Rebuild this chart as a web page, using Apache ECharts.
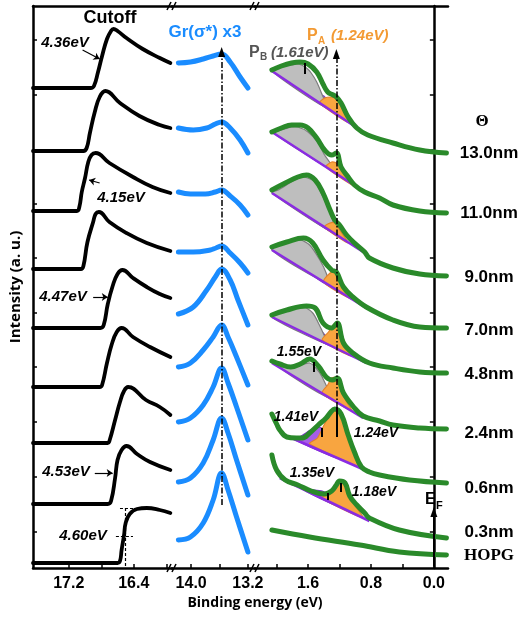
<!DOCTYPE html>
<html>
<head>
<meta charset="utf-8">
<script src="https://cdn.jsdelivr.net/npm/echarts@6/dist/echarts.min.js"></script>
<style>
  html, body { margin: 0; padding: 0; background: #fff; }
  #chart { width: 520px; height: 623px; }
</style>
</head>
<body>
<div id="chart"></div>
<script>
// sample labels, top to bottom
var thickness = ['13.0nm', '11.0nm', '9.0nm', '7.0nm', '4.8nm', '2.4nm', '0.6nm', '0.3nm', 'HOPG'];

// axis ticks (binding energy, eV) and intensity ticks
var ticksCutoff = [17.2, 16.8, 16.4, 16.0];
var labelsCutoff = [17.2, 16.4];
var ticksGr = [14.0, 13.6, 13.2];
var labelsGr = [14.0, 13.2];
var ticksVB = [2.0, 1.6, 1.2, 0.8, 0.4, 0.0];
var labelsVB = [1.6, 0.8, 0.0];
var ticksY = [36, 91, 146, 201, 255, 310, 364, 418, 473, 528];

// secondary electron cutoff, [BE, intensity], stacked top -> bottom
var cutoff = [
  [[17.64,480],[16.93,480],[16.89,482],[16.84,496],[16.79,512],[16.73,529],[16.68,537],[16.65,539],[16.60,537],[16.49,530],[16.29,519],[16.08,510],[15.95,505]],
  [[17.64,417],[17.02,417],[16.98,420],[16.94,435],[16.88,456],[16.82,471],[16.75,477],[16.57,465],[16.33,452],[16.08,443],[15.95,440]],
  [[17.64,357],[17.10,357],[17.07,361],[17.04,376],[17.00,390],[16.96,406],[16.92,413],[16.87,415],[16.70,405],[16.41,391],[16.17,381],[15.95,375]],
  [[17.64,299],[17.05,299],[17.02,302],[16.97,326],[16.90,346],[16.87,354],[16.83,356],[16.70,346],[16.49,335],[16.24,325],[15.95,317]],
  [[17.64,240],[16.81,240],[16.77,243],[16.72,264],[16.66,282],[16.60,294],[16.54,298],[16.41,290],[16.24,281],[16.08,274],[15.95,270]],
  [[17.64,181],[16.82,181],[16.79,183],[16.73,205],[16.67,224],[16.61,236],[16.55,240],[16.41,231],[16.20,221],[15.95,211]],
  [[17.64,125],[16.72,125],[16.70,127],[16.63,148],[16.57,166],[16.52,177],[16.47,181],[16.25,168],[16.08,161],[15.95,153]],
  [[17.64,64],[16.72,64],[16.68,67],[16.63,90],[16.60,108],[16.55,118],[16.49,122],[16.36,114],[16.20,106],[15.95,98]],
  [[17.64,5],[16.60,5],[16.57,7],[16.55,18],[16.52,33],[16.50,45],[16.45,54],[16.36,59],[16.24,60],[16.08,58],[15.95,55]]
];
var cutoffText = ['4.36eV', '4.15eV', '4.47eV', '4.53eV', '4.60eV'];

// graphene sigma* (x3)
var grSigma = [
  [[14.18,505],[14.01,506],[13.83,509],[13.69,512],[13.57,514],[13.45,506],[13.31,491],[13.20,480]],
  [[14.18,440],[13.97,438],[13.78,440],[13.66,444],[13.57,446],[13.45,440],[13.31,428],[13.20,415]],
  [[14.18,376],[14.01,374],[13.80,374],[13.66,376],[13.57,378],[13.45,372],[13.31,363],[13.20,353]],
  [[14.18,316],[13.97,316],[13.73,318],[13.65,320],[13.57,322],[13.45,315],[13.31,305],[13.20,295]],
  [[14.18,254],[13.97,261],[13.78,278],[13.66,291],[13.57,299],[13.45,288],[13.34,268],[13.20,243]],
  [[14.18,201],[14.01,205],[13.83,218],[13.69,231],[13.57,243],[13.48,231],[13.36,211],[13.20,183]],
  [[14.18,146],[14.01,150],[13.83,163],[13.69,181],[13.57,200],[13.48,185],[13.36,161],[13.20,128]],
  [[14.18,86],[14.01,90],[13.83,105],[13.69,128],[13.57,150],[13.48,135],[13.36,108],[13.20,73]],
  [[14.18,28],[14.01,31],[13.83,45],[13.69,68],[13.57,95],[13.48,78],[13.36,51],[13.20,16]]
];

// valence band region: measured curve
var vbCurve = [
  [[2.06,498],[1.94,502],[1.81,505],[1.70,506],[1.60,504],[1.49,496],[1.41,484],[1.35,476],[1.28,473],[1.24,471],[1.18,465],[1.09,451],[0.98,440],[0.84,433],[0.52,425],[0.18,418],[-0.16,415]],
  [[2.06,436],[1.94,440],[1.81,443],[1.70,443],[1.60,440],[1.49,430],[1.39,418],[1.30,413],[1.24,415],[1.18,401],[1.09,391],[1.01,383],[0.88,376],[0.69,370],[0.52,363],[0.18,357],[-0.16,355]],
  [[2.06,378],[1.89,385],[1.73,391],[1.62,393],[1.51,388],[1.41,375],[1.32,358],[1.26,348],[1.20,343],[1.11,333],[1.01,325],[0.88,316],[0.82,310],[0.52,300],[0.18,294],[-0.16,292]],
  [[2.06,321],[1.87,326],[1.66,330],[1.54,325],[1.41,308],[1.30,298],[1.24,296],[1.15,281],[1.03,271],[0.86,261],[0.52,248],[0.18,241],[-0.16,240]],
  [[2.06,253],[1.87,258],[1.62,262],[1.51,260],[1.41,245],[1.30,240],[1.23,245],[1.15,225],[1.03,215],[0.82,205],[0.52,200],[0.18,196],[-0.16,195]],
  [[2.06,207],[1.96,204],[1.82,201],[1.70,204],[1.58,209],[1.47,202],[1.37,191],[1.29,188],[1.23,190],[1.15,175],[1.03,162],[0.90,152],[0.69,147],[0.52,143],[0.18,140],[-0.16,139]],
  [[2.06,154],[2.00,144],[1.96,138],[1.87,131],[1.75,130],[1.67,130],[1.58,135],[1.47,143],[1.37,150],[1.31,156],[1.26,159],[1.18,154],[1.09,133],[1.01,116],[0.92,101],[0.82,96],[0.69,93],[0.31,88],[-0.16,85]],
  [[2.06,113],[2.00,98],[1.89,88],[1.73,83],[1.56,77],[1.39,74],[1.30,77],[1.24,83],[1.20,87],[1.13,85],[1.07,72],[0.98,63],[0.88,55],[0.82,50],[0.44,38],[-0.16,30]],
  [[2.06,38],[1.58,31],[0.94,23],[0.44,16],[-0.16,13]]
];
// linear background
var vbBackground = [
  [[2.06,497],[0.90,436]],
  [[2.06,436],[0.92,378]],
  [[2.06,375],[0.88,315]],
  [[2.06,318],[0.86,260]],
  [[2.06,251],[0.86,205]],
  [[2.06,205],[0.90,150]],
  [[1.81,130],[0.82,96]],
  [[1.96,90],[0.82,47]],
  null
];
// fitted components: P_B (grey), violet, P_A (orange)
var peakGrey = [
  [[2.06,497],[1.94,501],[1.81,503],[1.72,504],[1.62,500],[1.56,495],[1.49,486],[1.43,475],[1.36,460]],
  [[2.06,436],[1.98,437],[1.81,441],[1.73,441],[1.60,436],[1.47,425],[1.39,413],[1.32,405],[1.28,397]],
  [[2.06,375],[1.98,378],[1.77,388],[1.66,391],[1.51,386],[1.41,371],[1.32,355],[1.28,346],[1.25,334]],
  [[2.06,318],[1.87,325],[1.70,328],[1.58,323],[1.45,308],[1.37,295],[1.34,284]],
  [[2.06,251],[1.87,257],[1.66,261],[1.54,255],[1.45,242],[1.38,230],[1.34,223]],
  [[1.95,200],[1.80,202],[1.65,204],[1.58,205],[1.50,200],[1.42,191],[1.32,170]],
  null, null, null
];
var peakViolet = [
  [[1.62,474],[1.52,474],[1.45,473],[1.40,472],[1.34,466],[1.28,456]],
  [[1.60,413],[1.52,413],[1.45,411],[1.39,407],[1.33,401],[1.28,397]],
  [[1.55,349],[1.48,350],[1.42,349],[1.36,344],[1.30,336]],
  [[1.54,293],[1.47,296],[1.40,295],[1.35,290],[1.30,281]],
  [[1.60,234],[1.50,238],[1.42,236],[1.36,230],[1.30,222]],
  [[1.55,181],[1.48,183],[1.40,181],[1.33,175],[1.28,168]],
  [[1.81,130],[1.71,131],[1.61,136],[1.52,140],[1.43,140],[1.35,130],[1.28,115],[1.24,110]],
  [[1.65,78],[1.52,78],[1.42,77],[1.33,73],[1.25,63]],
  null
];
var peakOrange = [
  [[1.45,465],[1.39,470],[1.30,471],[1.24,470],[1.16,460],[1.07,445]],
  [[1.37,401],[1.30,406],[1.24,405],[1.15,396],[1.07,386],[0.98,380]],
  [[1.39,341],[1.32,345],[1.26,345],[1.18,336],[1.09,325]],
  [[1.40,286],[1.32,295],[1.26,296],[1.20,290],[1.11,278],[1.05,269]],
  [[1.42,228],[1.34,236],[1.28,243],[1.23,245],[1.18,236],[1.12,223],[1.05,212]],
  [[1.42,175],[1.35,183],[1.30,190],[1.24,190],[1.18,179],[1.11,166],[1.04,157]],
  [[1.58,124],[1.48,130],[1.39,144],[1.31,155],[1.26,157],[1.19,155],[1.14,144],[1.07,128],[0.99,112],[0.92,101],[0.84,97]],
  [[1.42,70],[1.32,76],[1.26,82],[1.20,86],[1.12,82],[1.06,70],[0.98,60],[0.90,50]],
  null
];

var FONT = '"Liberation Sans", Arial, sans-serif';
var BLUE = '#1a8cff';
var chart = echarts.init(document.getElementById('chart'));

function bottomAxis(grid, min, max, ticks, labels) {
  return {
    type: 'value', gridIndex: grid, min: min, max: max, inverse: true, position: 'bottom',
    axisLine: { show: true, onZero: false, lineStyle: { color: '#000', width: 2.5 } },
    axisTick: { show: true, inside: true, length: 4, customValues: ticks, lineStyle: { color: '#000', width: 1.5 } },
    axisLabel: {
      customValues: labels, margin: 8, color: '#000', fontSize: 16, fontWeight: 'bold', fontFamily: FONT,
      formatter: function (v) { return Math.abs(v).toFixed(1); }
    },
    splitLine: { show: false }
  };
}
function topAxis(grid, min, max) {
  return {
    type: 'value', gridIndex: grid, min: min, max: max, inverse: true, position: 'top',
    axisLine: { show: true, onZero: false, lineStyle: { color: '#000', width: 2.5 } },
    axisTick: { show: false }, axisLabel: { show: false }, splitLine: { show: false }
  };
}
function sideAxis(grid, pos) {
  return {
    type: 'value', gridIndex: grid, min: 0, max: 562, position: pos,
    axisLine: { show: true, lineStyle: { color: '#000', width: 2.5 } },
    axisTick: { show: true, inside: true, length: 4, customValues: ticksY, lineStyle: { color: '#000', width: 1.5 } },
    axisLabel: { show: false }, splitLine: { show: false }
  };
}

// filled peak component drawn as polygon through the axis scales
function peakSeries(points, fill, stroke, z) {
  return {
    type: 'custom', xAxisIndex: 2, yAxisIndex: 2, data: points, z: z, silent: true,
    renderItem: function (params, api) {
      if (params.dataIndex !== 0) return;
      var pts = points.map(function (p) { return api.coord(p); });
      return {
        type: 'polygon',
        shape: { points: pts, smooth: 0.25 },
        style: { fill: fill, stroke: stroke, lineWidth: 1.2 }
      };
    }
  };
}

var series = [];

cutoff.forEach(function (d) {
  series.push({
    type: 'line', xAxisIndex: 0, yAxisIndex: 0, data: d, smooth: 0.45, showSymbol: false, silent: true,
    lineStyle: { color: '#000', width: 3.8, cap: 'round', join: 'round' }, z: 3
  });
});

grSigma.forEach(function (d) {
  series.push({
    type: 'line', xAxisIndex: 1, yAxisIndex: 1, data: d, smooth: 0.4, showSymbol: false, silent: true,
    lineStyle: { color: BLUE, width: 5, cap: 'round', join: 'round' }, z: 3
  });
});

vbCurve.forEach(function (d, i) {
  if (peakViolet[i]) series.push(peakSeries(peakViolet[i], '#a75ee6', '#7a35c9', 2));
  if (peakGrey[i]) series.push(peakSeries(peakGrey[i], '#bebebe', '#7d7d7d', 2));
  if (peakOrange[i]) series.push(peakSeries(peakOrange[i], '#f8a540', '#e3812a', 2));
  if (vbBackground[i]) {
    series.push({
      type: 'line', xAxisIndex: 2, yAxisIndex: 2, data: vbBackground[i], showSymbol: false, silent: true,
      lineStyle: { color: '#8a2be2', width: 2.5 }, z: 3
    });
  }
  series.push({
    type: 'line', xAxisIndex: 2, yAxisIndex: 2, data: d, smooth: 0.4, showSymbol: false, silent: true,
    lineStyle: { color: '#2a8a2a', width: 5, cap: 'round', join: 'round' }, z: 4
  });
});

function seg(a, b) { return [{ coord: a }, { coord: b }]; }

// annotations in data coordinates
series.push({
  type: 'line', xAxisIndex: 0, yAxisIndex: 0, data: [], silent: true,
  markLine: {
    silent: true, symbol: ['none', 'arrow'], symbolSize: 6, label: { show: false },
    lineStyle: { color: '#000', width: 1.2, type: 'solid' },
    data: [
      seg([17.03, 518], [16.82, 509]),
      seg([16.82, 385], [16.95, 388]),
      seg([16.90, 271], [16.72, 271]),
      seg([16.88, 95], [16.66, 95])
    ]
  }
});
series.push({
  type: 'line', xAxisIndex: 0, yAxisIndex: 0, data: [], silent: true,
  markLine: {
    silent: true, symbol: ['none', 'none'], label: { show: false },
    lineStyle: { color: '#000', width: 1.2, type: [3, 2] },
    data: [
      seg([16.62, 32], [16.41, 32]),
      seg([16.51, 60], [16.51, 1]),
      seg([16.57, 60], [16.36, 60])
    ]
  }
});
series.push({
  type: 'line', xAxisIndex: 1, yAxisIndex: 1, data: [], silent: true,
  markLine: {
    silent: true, symbol: ['none', 'triangle'], symbolSize: [7, 10], label: { show: false },
    lineStyle: { color: '#000', width: 1.5, type: [6, 2, 1.5, 2] },
    data: [seg([13.57, 63], [13.57, 516])]
  }
});
series.push({
  type: 'line', xAxisIndex: 2, yAxisIndex: 2, data: [], silent: true,
  markLine: {
    silent: true, symbol: ['none', 'triangle'], symbolSize: [7, 10], label: { show: false },
    lineStyle: { color: '#000', width: 1.5, type: [6, 2, 1.5, 2] },
    data: [seg([1.24, 160], [1.24, 514])]
  }
});
series.push({
  type: 'line', xAxisIndex: 2, yAxisIndex: 2, data: [], silent: true, z: 6,
  markLine: {
    silent: true, symbol: ['none', 'none'], label: { show: false },
    lineStyle: { color: '#000', width: 2, type: 'solid' },
    data: [
      seg([1.64, 494], [1.64, 505]),
      seg([1.53, 196], [1.53, 206]),
      seg([1.43, 131], [1.43, 140]),
      seg([1.24, 131], [1.24, 161]),
      seg([1.35, 68], [1.35, 75]),
      seg([1.19, 76], [1.19, 85])
    ]
  }
});
series.push({
  type: 'line', xAxisIndex: 2, yAxisIndex: 2, data: [], silent: true, z: 6,
  markLine: {
    silent: true, symbol: ['none', 'triangle'], symbolSize: [7, 10], label: { show: false },
    lineStyle: { color: '#000', width: 2, type: 'solid' },
    data: [seg([0.0, 2], [0.0, 56])]
  }
});

function txt(s, x, y, font, fill, align) {
  return {
    type: 'text', x: x, y: y, z: 100, silent: true,
    style: { text: s, font: font, fill: fill || '#000', textAlign: align || 'center', textVerticalAlign: 'middle' }
  };
}
var IT = 'italic bold 15px ' + FONT;
var IT14 = 'italic bold 14px ' + FONT;
var SERIF = 'bold 17px "Liberation Serif", "Times New Roman", serif';

var graphics = [
  txt('Cutoff', 110, 18, 'bold 18px ' + FONT),
  txt('Gr(σ*) x3', 205, 32, 'bold 17px ' + FONT, BLUE),
  txt('P', 307, 36, 'bold 16px ' + FONT, '#f39a33', 'left'),
  txt('A', 318, 41, 'bold 10px ' + FONT, '#f39a33', 'left'),
  txt('(1.24eV)', 331, 36, IT, '#f39a33', 'left'),
  txt('P', 249, 53, 'bold 16px ' + FONT, '#555', 'left'),
  txt('B', 260, 57, 'bold 10px ' + FONT, '#555', 'left'),
  txt('(1.61eV)', 271, 53, IT, '#555', 'left'),
  txt(cutoffText[0], 65, 43, IT),
  txt(cutoffText[1], 121, 198, IT),
  txt(cutoffText[2], 63, 297, IT),
  txt(cutoffText[3], 66, 472, IT),
  txt(cutoffText[4], 83, 536, IT),
  txt('1.55eV', 299, 352, IT14),
  txt('1.41eV', 296, 417, IT14),
  txt('1.24eV', 376, 433, IT14),
  txt('1.35eV', 312, 473, IT14),
  txt('1.18eV', 374, 492, IT14),
  txt('E', 425, 500, 'bold 16px ' + FONT, '#000', 'left'),
  txt('F', 436, 506, 'bold 11px ' + FONT, '#000', 'left'),
  txt('Θ', 482, 122, SERIF),
  txt('Binding energy (eV)', 255, 603, 'bold 14px "Open Sans", sans-serif'),
  {
    type: 'text', x: 16, y: 287, rotation: Math.PI / 2, z: 100, silent: true,
    style: { text: 'Intensity (a. u.)', font: 'bold 15px "Open Sans", sans-serif', fill: '#000', textAlign: 'center', textVerticalAlign: 'middle' }
  }
];
var labelY = [153, 213, 277, 330, 374, 433, 488, 532, 556];
thickness.forEach(function (t, i) {
  graphics.push(txt(t, 489, labelY[i], t === 'HOPG' ? SERIF : 'bold 17px ' + FONT));
});
// axis break marks
[172, 255].forEach(function (x) {
  [6, 568].forEach(function (y) {
    graphics.push({ type: 'line', z: 100, silent: true, shape: { x1: x - 5, y1: y + 4, x2: x - 1, y2: y - 4 }, style: { stroke: '#000', lineWidth: 1.6 } });
    graphics.push({ type: 'line', z: 100, silent: true, shape: { x1: x, y1: y + 4, x2: x + 4, y2: y - 4 }, style: { stroke: '#000', lineWidth: 1.6 } });
  });
});

chart.setOption({
  backgroundColor: '#fff',
  animation: false,
  grid: [
    { left: 33, top: 6, width: 139, height: 562 },
    { left: 172, top: 6, width: 83, height: 562 },
    { left: 255, top: 6, width: 193, height: 562 }
  ],
  xAxis: [
    bottomAxis(0, 15.93, 17.64, ticksCutoff, labelsCutoff),
    bottomAxis(1, 13.10, 14.27, ticksGr, labelsGr),
    bottomAxis(2, -0.18, 2.275, ticksVB, labelsVB),
    topAxis(0, 15.93, 17.64),
    topAxis(1, 13.10, 14.27),
    topAxis(2, -0.18, 2.275)
  ],
  yAxis: [
    sideAxis(0, 'left'),
    { type: 'value', gridIndex: 1, min: 0, max: 562, show: false },
    sideAxis(2, 'right')
  ],
  graphic: graphics,
  series: series
});
</script>
</body>
</html>
